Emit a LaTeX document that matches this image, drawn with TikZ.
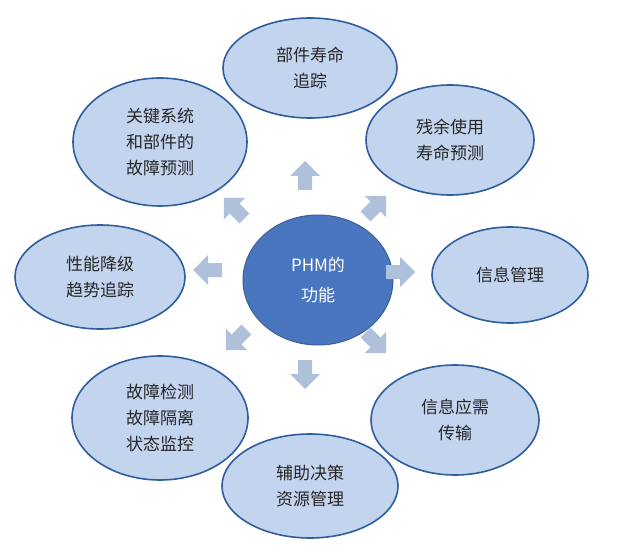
\documentclass[tikz,border=0pt]{standalone}
\usepackage{fontspec}
\newfontfamily\cjk{Noto Sans CJK SC}
\usetikzlibrary{shapes.geometric}
\definecolor{efill}{HTML}{C3D4EE}
\definecolor{eline}{HTML}{2F5E9E}
\definecolor{cfill}{HTML}{4A76C0}
\definecolor{afill}{HTML}{AFC0DA}
\tikzset{
 outer/.style={ellipse,draw=eline,line width=1.6pt,fill=efill,align=center,font=\cjk\fontsize{17}{26}\selectfont,inner sep=0pt,text=black!85},
 blk/.pic={\fill[afill] (-12,-7) -- (2,-7) -- (2,-15) -- (17,0) -- (2,15) -- (2,7) -- (-12,7) -- cycle;}
}
\begin{document}
\begin{tikzpicture}[x=1pt,y=-1pt]
\useasboundingbox (0,0) rectangle (618,556);
\fill[white] (0,0) rectangle (618,556);
\node[ellipse,fill=cfill,draw=cfill!80!black,line width=1pt,minimum width=150pt,minimum height=130pt,text=white,align=center,font=\cjk\fontsize{17}{30}\selectfont] (c) at (318,280) {PHM的\\功能};
\node[outer,minimum width=174pt,minimum height=100pt] (t) at (310,68) {部件寿命\\追踪};
\node[outer,minimum width=174pt,minimum height=128pt] (tl) at (160,142) {关键系统\\和部件的\\故障预测};
\node[outer,minimum width=168pt,minimum height=110pt] (tr) at (450,140) {残余使用\\寿命预测};
\node[outer,minimum width=156pt,minimum height=96pt] (r) at (510,275) {信息管理};
\node[outer,minimum width=170pt,minimum height=104pt] (l) at (100,277) {性能降级\\趋势追踪};
\node[outer,minimum width=176pt,minimum height=124pt] (bl) at (160,418) {故障检测\\故障隔离\\状态监控};
\node[outer,minimum width=168pt,minimum height=110pt] (br) at (455,420) {信息应需\\传输};
\node[outer,minimum width=176pt,minimum height=104pt] (b) at (310,486) {辅助决策\\资源管理};
\pic[rotate=90] at (305,178) {blk};
\pic[rotate=-90] at (305,372) {blk};
\pic[rotate=180] at (210,270) {blk};
\pic[rotate=0] at (398,272) {blk};
\pic[rotate=135] at (236,210) {blk};
\pic[rotate=45] at (374,208) {blk};
\pic[rotate=-135] at (238,338) {blk};
\pic[rotate=-45] at (374,341) {blk};
\end{tikzpicture}
\end{document}
